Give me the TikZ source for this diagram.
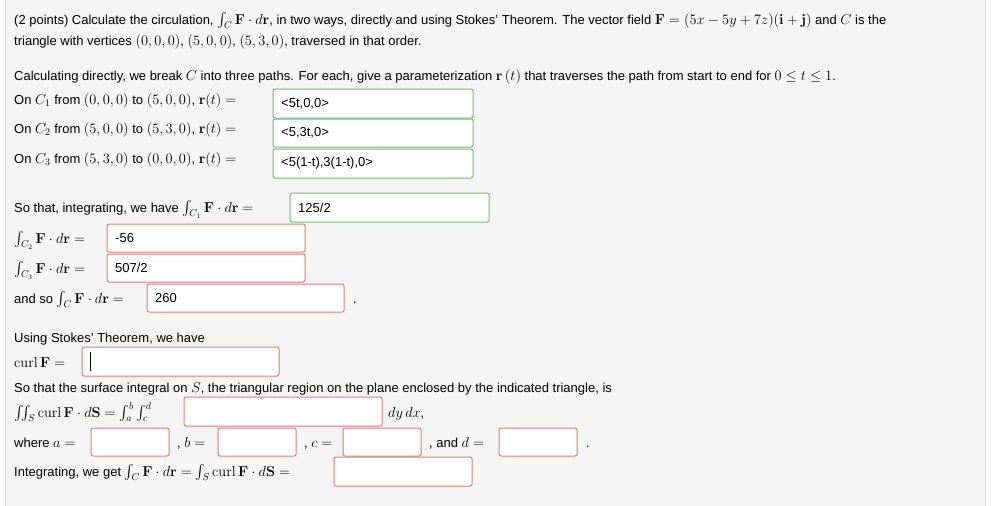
\documentclass[tikz,border=0pt]{standalone}
\usepackage{amsmath}
\usepackage[no-math]{fontspec}
\setmainfont{Liberation Sans}
\DeclareMathSizes{13}{14.4}{10}{7}
\definecolor{panel}{HTML}{F4F4F4}
\definecolor{pborder}{HTML}{DDDDDD}
\definecolor{bad}{HTML}{E07A80}
\definecolor{good}{HTML}{6CC07A}
\tikzset{
 txt/.style={anchor=base west,inner sep=0pt,font=\fontsize{13}{15}\selectfont},
 ans/.style={draw=bad,line width=1pt,fill=white,rounded corners=2pt},
 okans/.style={draw=good,line width=1pt,fill=white,rounded corners=2pt},
 val/.style={anchor=west,inner sep=0pt,font=\fontsize{13}{15}\selectfont}
}
\newcommand{\Fdr}{\mathbf{F}\cdot d\mathbf{r}}
\begin{document}
\begin{tikzpicture}[x=1pt,y=-1pt]
\useasboundingbox (0,0) rectangle (991,506);
\fill[panel,draw=pborder] (5,-2) rectangle (985,506);
\node[txt] (l1) at (14,24) {(2 points) Calculate the circulation, $\int_C \Fdr$, in two ways, directly and using Stokes' Theorem. The vector field $\mathbf{F}=(5x-5y+7z)(\mathbf{i}+\mathbf{j})$ and $C$ is the};
\node[txt] (l2) at (14,45) {triangle with vertices $(0,0,0)$, $(5,0,0)$, $(5,3,0)$, traversed in that order.};
\node[txt] (l3) at (14,80) {Calculating directly, we break $C$ into three paths. For each, give a parameterization $\mathbf{r}\,(t)$ that traverses the path from start to end for $0\le t\le 1$.};
\node[txt] (r1) at (14,104) {On $C_1$ from $(0,0,0)$ to $(5,0,0)$, $\mathbf{r}(t)=$};
\node[txt] (r2) at (14,133) {On $C_2$ from $(5,0,0)$ to $(5,3,0)$, $\mathbf{r}(t)=$};
\node[txt] (r3) at (14,163) {On $C_3$ from $(5,3,0)$ to $(0,0,0)$, $\mathbf{r}(t)=$};
\draw[okans] (273,89) rectangle (473,118); \node[val] (v1) at (281,103.5) {<5t,0,0>};
\draw[okans] (273,119) rectangle (473,147); \node[val] (v2) at (281,133) {<5,3t,0>};
\draw[okans] (273,149) rectangle (473,178); \node[val] (v3) at (281,163.5) {<5(1-t),3(1-t),0>};
\node[txt] (s1) at (14,212) {So that, integrating, we have $\int_{C_1}\Fdr=$};
\draw[okans] (290,193) rectangle (489,222); \node[val] (w1) at (298,207.5) {125/2};
\node[txt] (s2) at (14,243) {$\int_{C_2}\Fdr=$};
\draw[ans] (107,224) rectangle (305,252); \node[val] (w2) at (115,238) {-56};
\node[txt] (s3) at (14,273) {$\int_{C_3}\Fdr=$};
\draw[ans] (107,254) rectangle (305,282); \node[val] (w3) at (115,268) {507/2};
\node[txt] (s4) at (14,303) {and so $\int_C\Fdr=$};
\draw[ans] (147,284) rectangle (344,312); \node[val] (w4) at (155,298) {260};
\node[txt] (p1) at (353,303) {.};
\node[txt] (u1) at (14,342) {Using Stokes' Theorem, we have};
\node[txt] (u2) at (14,367) {$\mathrm{curl}\,\mathbf{F}=$};
\draw[ans] (82,347) rectangle (279,376); \draw (90,352) -- (90,371);
\node[txt] (u3) at (14,392) {So that the surface integral on $S$, the triangular region on the plane enclosed by the indicated triangle, is};
\node[txt] (u4) at (14,417) {$\iint_S \mathrm{curl}\,\mathbf{F}\cdot d\mathbf{S}=\int_a^b\int_c^d$};
\draw[ans] (184,397) rectangle (382,426);
\node[txt] (u5) at (388,417) {$dy\,dx$,};
\node[txt] (u6) at (14,447) {where $a=$};
\draw[ans] (91,428) rectangle (169,456);
\node[txt] (u7) at (177,447) {, $b=$};
\draw[ans] (218,428) rectangle (296,456);
\node[txt] (u8) at (304,447) {, $c=$};
\draw[ans] (343,428) rectangle (421,456);
\node[txt] (u9) at (429,447) {, and $d=$};
\draw[ans] (499,428) rectangle (577,456);
\node[txt] (p2) at (586,447) {.};
\node[txt] (u10) at (14,476) {Integrating, we get $\int_C\Fdr=\int_S\mathrm{curl}\,\mathbf{F}\cdot d\mathbf{S}=$};
\draw[ans] (334,457) rectangle (472,486);
\end{tikzpicture}
\end{document}
